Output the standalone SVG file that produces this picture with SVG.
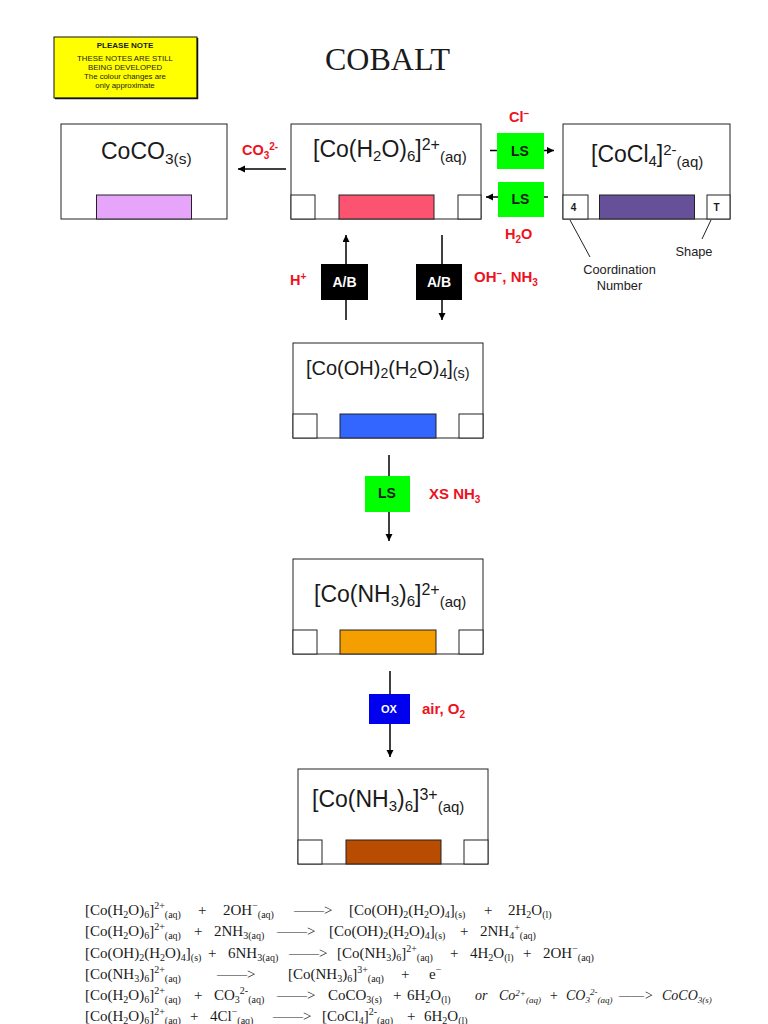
<svg xmlns="http://www.w3.org/2000/svg" width="768" height="1024" viewBox="0 0 768 1024">
<defs>
<marker id="ah" markerUnits="userSpaceOnUse" markerWidth="8" markerHeight="8" refX="7" refY="3.500" orient="auto"><path d="M0 0L7 3.500L0 7Z" fill="#000"/></marker>
</defs>
<style>
text{font-family:"Liberation Sans",Arial,sans-serif;fill:#1a1a1a}
.box{fill:#fff;stroke:#222;stroke-width:1}
.sw{stroke:#222;stroke-width:1}
.f{font-size:23px}
.r{font-size:15px;font-weight:bold;fill:#ee1122}
.k{font-size:14px;font-weight:bold;text-anchor:middle}
.c{stroke:#000;stroke-width:1.500;fill:none}
.a{marker-end:url(#ah)}
.eq text{font-family:"Liberation Serif","Times New Roman",serif;font-size:15px}
.eq tspan{font-size:15px}
.eq .d{font-size:10px}
.eq .i{font-style:italic;font-size:14px}
.eq .j{font-style:italic;font-size:9px}
.lab{font-size:12.800px;text-anchor:middle;fill:#222}
.l2{stroke:#222;stroke-width:1;fill:none}
</style>
<rect width="768" height="1024" fill="#fff"/>
<text x="387.500" y="70" text-anchor="middle" style="font-family:'Liberation Serif',serif;font-size:32px">COBALT</text>

<g id="note">
<rect x="54" y="37" width="143" height="61" fill="#ffff00" stroke="#111" stroke-width="1"/>
<path d="M55 98.500H197.500V38" fill="none" stroke="#111" stroke-width="1.500"/>
<text x="125" y="48" text-anchor="middle" style="font-size:8px;font-weight:bold">PLEASE NOTE</text>
<text x="125" y="61" text-anchor="middle" style="font-size:7.800px">THESE NOTES ARE STILL</text>
<text x="125" y="70" text-anchor="middle" style="font-size:7.800px">BEING DEVELOPED</text>
<text x="125" y="79" text-anchor="middle" style="font-size:7.800px">The colour changes are</text>
<text x="125" y="88" text-anchor="middle" style="font-size:7.800px">only approximate</text>
</g>

<g id="n-coco3">
<rect class="box" x="61" y="124" width="166" height="95"/>
<rect class="sw" x="96.500" y="195" width="95" height="24" fill="#e6a4fb"/>
<text x="101" y="159" class="f">CoCO<tspan font-size="15.500" dy="5">3(s)</tspan></text>
</g>

<g id="n-h2o">
<rect class="box" x="291" y="124" width="190" height="95"/>
<rect class="sw" x="291" y="195" width="24" height="24" fill="#fff"/>
<rect class="sw" x="458" y="195" width="23" height="24" fill="#fff"/>
<rect class="sw" x="339" y="195" width="95" height="24" fill="#fc5470"/>
<text x="313" y="157" class="f">[Co(H<tspan font-size="15" dy="4">2</tspan><tspan dy="-4">O)</tspan><tspan font-size="15" dy="4">6</tspan><tspan dy="-4">]</tspan><tspan font-size="16" dy="-7">2+</tspan><tspan font-size="15" dy="12">(aq)</tspan></text>
</g>

<g id="n-cocl4">
<rect class="box" x="563" y="124" width="167" height="95"/>
<rect class="sw" x="563" y="195" width="25" height="24" fill="#fff"/>
<rect class="sw" x="707" y="195" width="23" height="24" fill="#fff"/>
<rect class="sw" x="599.500" y="195" width="95" height="24" fill="#67509a"/>
<text x="573.500" y="211" text-anchor="middle" style="font-size:10px;font-weight:bold">4</text>
<text x="716.500" y="211" text-anchor="middle" style="font-size:10px;font-weight:bold">T</text>
<text x="591" y="162" class="f">[CoCl<tspan font-size="15" dy="4">4</tspan><tspan dy="-4">]</tspan><tspan font-size="15" dy="-7">2-</tspan><tspan font-size="15" dy="12">(aq)</tspan></text>
</g>

<g id="n-oh">
<rect class="box" x="293" y="343" width="190" height="95"/>
<rect class="sw" x="293" y="414" width="24" height="24" fill="#fff"/>
<rect class="sw" x="459" y="414" width="24" height="24" fill="#fff"/>
<rect class="sw" x="340" y="414" width="96" height="24" fill="#3366ff"/>
<text x="306" y="375" style="font-size:20px">[Co(OH)<tspan font-size="14" dy="3">2</tspan><tspan dy="-3">(H</tspan><tspan font-size="14" dy="3">2</tspan><tspan dy="-3">O)</tspan><tspan font-size="14" dy="3">4</tspan><tspan dy="-3">]</tspan><tspan font-size="14.500" dy="3">(s)</tspan></text>
</g>

<g id="n-nh32">
<rect class="box" x="293" y="559" width="190" height="95"/>
<rect class="sw" x="293" y="630" width="24" height="24" fill="#fff"/>
<rect class="sw" x="459" y="630" width="24" height="24" fill="#fff"/>
<rect class="sw" x="340" y="630" width="96" height="24" fill="#f59e00"/>
<text x="314" y="602" class="f">[Co(NH<tspan font-size="15" dy="4">3</tspan><tspan dy="-4">)</tspan><tspan font-size="15" dy="4">6</tspan><tspan dy="-4">]</tspan><tspan font-size="16" dy="-7">2+</tspan><tspan font-size="15" dy="12">(aq)</tspan></text>
</g>

<g id="n-nh33">
<rect class="box" x="298" y="769" width="190" height="95"/>
<rect class="sw" x="298" y="840" width="24" height="24" fill="#fff"/>
<rect class="sw" x="464" y="840" width="24" height="24" fill="#fff"/>
<rect class="sw" x="346" y="840" width="95" height="24" fill="#b84c00"/>
<text x="312" y="807" class="f">[Co(NH<tspan font-size="15" dy="4">3</tspan><tspan dy="-4">)</tspan><tspan font-size="15" dy="4">6</tspan><tspan dy="-4">]</tspan><tspan font-size="16" dy="-7">3+</tspan><tspan font-size="15" dy="12">(aq)</tspan></text>
</g>

<g id="connectors">
<line class="c a" x1="286" y1="169" x2="238" y2="169"/>
<line class="c a" x1="490" y1="150.500" x2="554" y2="150.500"/>
<line class="c a" x1="548" y1="197" x2="486" y2="197"/>
<line class="c a" x1="346" y1="320" x2="346" y2="235"/>
<line class="c a" x1="442" y1="235" x2="442" y2="320"/>
<line class="c a" x1="389" y1="455" x2="389" y2="541"/>
<line class="c a" x1="390" y1="671" x2="390" y2="757"/>
<line class="l2" x1="570" y1="220" x2="590" y2="257"/>
<line class="l2" x1="711" y1="220" x2="702" y2="239"/>
</g>

<g id="reagents">
<rect x="497" y="133" width="47" height="36" fill="#00ff00"/>
<text x="520" y="156" class="k">LS</text>
<rect x="498" y="182" width="46" height="35" fill="#00ff00"/>
<text x="520.500" y="204" class="k">LS</text>
<rect x="321" y="264" width="47" height="36" fill="#000"/>
<text x="344.500" y="287" class="k" style="fill:#fff">A/B</text>
<rect x="416" y="264" width="46" height="36" fill="#000"/>
<text x="439" y="287" class="k" style="fill:#fff">A/B</text>
<rect x="365" y="476" width="45" height="36" fill="#00ff00"/>
<text x="387" y="498" class="k">LS</text>
<rect x="369" y="694" width="41" height="30" fill="#0000ee"/>
<text x="389" y="713" class="k" style="fill:#fff;font-size:11px">OX</text>

<text x="242" y="155" class="r" style="font-size:14.500px">CO<tspan font-size="10" dy="4">3</tspan><tspan font-size="10" dy="-9">2-</tspan></text>
<text x="509" y="122" class="r" style="font-size:14.500px">Cl<tspan font-size="10" dy="-5">−</tspan></text>
<text x="505" y="239" class="r" style="font-size:14.500px">H<tspan font-size="10" dy="4">2</tspan><tspan dy="-4">O</tspan></text>
<text x="290" y="285" class="r" style="font-size:14.500px">H<tspan font-size="10" dy="-5">+</tspan></text>
<text x="474" y="282" class="r">OH<tspan font-size="10" dy="-5">−</tspan><tspan dy="5">, NH</tspan><tspan font-size="10" dy="4">3</tspan></text>
<text x="429" y="499" class="r">XS NH<tspan font-size="10" dy="4">3</tspan></text>
<text x="422" y="714" class="r">air, O<tspan font-size="10" dy="4">2</tspan></text>

<text x="619.500" y="274" class="lab">Coordination</text>
<text x="619.500" y="290" class="lab">Number</text>
<text x="694" y="256" class="lab">Shape</text>
</g>

<g id="equations" class="eq">
<text x="85" y="915">[Co(H<tspan class="d" dy="3">2</tspan><tspan dy="-3">O)</tspan><tspan class="d" dy="3">6</tspan><tspan dy="-3">]</tspan><tspan class="d" dy="-6">2+</tspan><tspan class="d" dy="9">(aq)</tspan><tspan dy="-3" x="198">+</tspan><tspan x="223">2OH</tspan><tspan class="d" dy="-6">−</tspan><tspan class="d" dy="9">(aq)</tspan><tspan dy="-3" x="294">——&gt;</tspan><tspan x="349">[Co(OH)</tspan><tspan class="d" dy="3">2</tspan><tspan dy="-3">(H</tspan><tspan class="d" dy="3">2</tspan><tspan dy="-3">O)</tspan><tspan class="d" dy="3">4</tspan><tspan dy="-3">]</tspan><tspan class="d" dy="3">(s)</tspan><tspan dy="-3" x="484">+</tspan><tspan x="508">2H</tspan><tspan class="d" dy="3">2</tspan><tspan dy="-3">O</tspan><tspan class="d" dy="3">(l)</tspan></text>
<text x="85" y="936">[Co(H<tspan class="d" dy="3">2</tspan><tspan dy="-3">O)</tspan><tspan class="d" dy="3">6</tspan><tspan dy="-3">]</tspan><tspan class="d" dy="-6">2+</tspan><tspan class="d" dy="9">(aq)</tspan><tspan dy="-3" x="194">+</tspan><tspan x="214">2NH</tspan><tspan class="d" dy="3">3(aq)</tspan><tspan dy="-3" x="277">——&gt;</tspan><tspan x="329">[Co(OH)</tspan><tspan class="d" dy="3">2</tspan><tspan dy="-3">(H</tspan><tspan class="d" dy="3">2</tspan><tspan dy="-3">O)</tspan><tspan class="d" dy="3">4</tspan><tspan dy="-3">]</tspan><tspan class="d" dy="3">(s)</tspan><tspan dy="-3" x="460">+</tspan><tspan x="480">2NH</tspan><tspan class="d" dy="3">4</tspan><tspan class="d" dy="-8">+</tspan><tspan class="d" dy="8">(aq)</tspan></text>
<text x="85" y="958">[Co(OH)<tspan class="d" dy="3">2</tspan><tspan dy="-3">(H</tspan><tspan class="d" dy="3">2</tspan><tspan dy="-3">O)</tspan><tspan class="d" dy="3">4</tspan><tspan dy="-3">]</tspan><tspan class="d" dy="3">(s)</tspan><tspan dy="-3" x="208">+</tspan><tspan x="228">6NH</tspan><tspan class="d" dy="3">3(aq)</tspan><tspan dy="-3" x="289">——&gt;</tspan><tspan x="337">[Co(NH</tspan><tspan class="d" dy="3">3</tspan><tspan dy="-3">)</tspan><tspan class="d" dy="3">6</tspan><tspan dy="-3">]</tspan><tspan class="d" dy="-6">2+</tspan><tspan class="d" dy="9">(aq)</tspan><tspan dy="-3" x="450">+</tspan><tspan x="470">4H</tspan><tspan class="d" dy="3">2</tspan><tspan dy="-3">O</tspan><tspan class="d" dy="3">(l)</tspan><tspan dy="-3" x="523">+</tspan><tspan x="543">2OH</tspan><tspan class="d" dy="-6">−</tspan><tspan class="d" dy="9">(aq)</tspan></text>
<text x="85" y="979">[Co(NH<tspan class="d" dy="3">3</tspan><tspan dy="-3">)</tspan><tspan class="d" dy="3">6</tspan><tspan dy="-3">]</tspan><tspan class="d" dy="-6">2+</tspan><tspan class="d" dy="9">(aq)</tspan><tspan dy="-3" x="217">——&gt;</tspan><tspan x="288">[Co(NH</tspan><tspan class="d" dy="3">3</tspan><tspan dy="-3">)</tspan><tspan class="d" dy="3">6</tspan><tspan dy="-3">]</tspan><tspan class="d" dy="-6">3+</tspan><tspan class="d" dy="9">(aq)</tspan><tspan dy="-3" x="401">+</tspan><tspan x="429">e</tspan><tspan class="d" dy="-6">−</tspan></text>
<text x="85" y="1000">[Co(H<tspan class="d" dy="3">2</tspan><tspan dy="-3">O)</tspan><tspan class="d" dy="3">6</tspan><tspan dy="-3">]</tspan><tspan class="d" dy="-6">2+</tspan><tspan class="d" dy="9">(aq)</tspan><tspan dy="-3" x="194">+</tspan><tspan x="214">CO</tspan><tspan class="d" dy="3">3</tspan><tspan class="d" dy="-9">2-</tspan><tspan class="d" dy="9">(aq)</tspan><tspan dy="-3" x="277">——&gt;</tspan><tspan x="328">CoCO</tspan><tspan class="d" dy="3">3(s)</tspan><tspan dy="-3" x="393">+</tspan><tspan x="407">6H</tspan><tspan class="d" dy="3">2</tspan><tspan dy="-3">O</tspan><tspan class="d" dy="3">(l)</tspan><tspan class="i" dy="-3" x="475">or</tspan><tspan class="i" x="499">Co</tspan><tspan class="j" dy="-4">2+</tspan><tspan class="j" dy="7">(aq)</tspan><tspan class="i" dy="-3" x="549">+</tspan><tspan class="i" x="566">CO</tspan><tspan class="j" dy="3">3</tspan><tspan class="j" dy="-8">2-</tspan><tspan class="j" dy="8">(aq)</tspan><tspan class="i" dy="-3" x="619">——&gt;</tspan><tspan class="i" x="662">CoCO</tspan><tspan class="j" dy="3">3(s)</tspan></text>
<text x="85" y="1021">[Co(H<tspan class="d" dy="3">2</tspan><tspan dy="-3">O)</tspan><tspan class="d" dy="3">6</tspan><tspan dy="-3">]</tspan><tspan class="d" dy="-6">2+</tspan><tspan class="d" dy="9">(aq)</tspan><tspan dy="-3" x="190">+</tspan><tspan x="210">4Cl</tspan><tspan class="d" dy="-6">−</tspan><tspan class="d" dy="9">(aq)</tspan><tspan dy="-3" x="273">——&gt;</tspan><tspan x="322">[CoCl</tspan><tspan class="d" dy="3">4</tspan><tspan dy="-3">]</tspan><tspan class="d" dy="-6">2-</tspan><tspan class="d" dy="9">(aq)</tspan><tspan dy="-3" x="407">+</tspan><tspan x="424">6H</tspan><tspan class="d" dy="3">2</tspan><tspan dy="-3">O</tspan><tspan class="d" dy="3">(l)</tspan></text>
</g>
</svg>
